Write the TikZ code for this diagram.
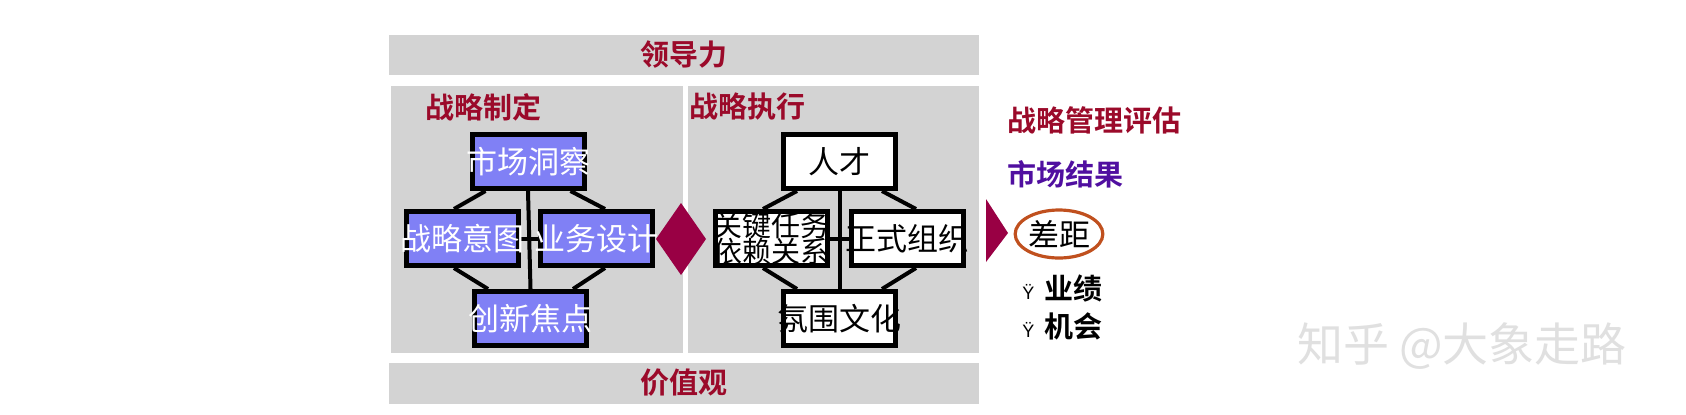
\documentclass[tikz,border=0pt]{standalone}
\usepackage{fontspec}
\setmainfont{Noto Sans CJK SC}
\newfontfamily\cjkb{Noto Sans CJK SC Bold}
\newfontfamily\lsans{Liberation Sans}
\usetikzlibrary{backgrounds,calc,shapes.geometric}
\definecolor{pgray}{RGB}{211,211,211}
\definecolor{dred}{RGB}{155,10,42}
\definecolor{dmd}{RGB}{153,0,68}
\definecolor{bluebox}{RGB}{128,128,245}
\definecolor{purp}{RGB}{80,15,160}
\definecolor{ora}{RGB}{192,80,30}
\newcommand{\ovl}[1]{\makebox[0pt]{#1}}
\tikzset{
  band/.style={fill=pgray,draw=none},
  title/.style={font=\cjkb\fontsize{14.5}{16}\selectfont,text=dred},
  bbox/.style={draw=black,line width=2.5pt,fill=bluebox,minimum width=56pt,minimum height=27pt,inner sep=0pt,text=white,font=\fontsize{15.5}{17}\selectfont},
  wbox/.style={bbox,fill=white,text=black},
  conn/.style={line width=2pt,black},
}
\begin{document}
\begin{tikzpicture}[x=0.5pt,y=-0.5pt]
\useasboundingbox (0,0) rectangle (1686,414);
% nodes
\node[title,text=dred] (lead) at (684,55) {领导力};
\node[title] (val) at (684,383) {价值观};
\node[title] (t1) at (483,107) {战略制定};
\node[title] (t2) at (747,107) {战略执行};
\node[title,anchor=west] (t3) at (1000,120) {战略管理评估};
\node[title,anchor=west,text=purp] (t4) at (1000,174) {市场结果};

\node[bbox] (a) at (528,161.5) {\ovl{市场洞察}};
\node[bbox] (b) at (462.5,238.5) {\ovl{战略意图}};
\node[bbox] (c) at (596.5,238.5) {\ovl{业务设计}};
\node[bbox] (d) at (530.5,318.5) {\ovl{创新焦点}};

\node[wbox] (p) at (839.5,161.5) {\ovl{人才}};
\node[wbox,font=\fontsize{14.5}{11}\selectfont] (q) at (771.5,238.5) {\ovl{\shortstack{关键任务\\[-3pt]依赖关系}}};
\node[wbox] (r) at (907.5,238.5) {\ovl{正式组织}};
\node[wbox] (s) at (839.5,318.5) {\ovl{氛围文化}};

\fill[dmd] (656,239) -- (681,203) -- (706,239) -- (681,275) -- cycle;
\fill[dmd] (986,199) -- (1008,233) -- (986,262) -- cycle;

\node[draw=ora,line width=1.6pt,ellipse,minimum width=43pt,minimum height=24pt,inner sep=0pt,font=\fontsize{15.5}{17}\selectfont] (gap) at (1059,234) {差距};
\node[anchor=west,inner sep=0pt] (y1) at (1022,288) {\lsans\fontsize{9}{10}\selectfont Ÿ\ \ \cjkb\fontsize{14.5}{16}\selectfont 业绩};
\node[anchor=west,inner sep=0pt] (y2) at (1022,326) {\lsans\fontsize{9}{10}\selectfont Ÿ\ \ \cjkb\fontsize{14.5}{16}\selectfont 机会};

\node[text=black!12,font=\fontsize{23}{26}\selectfont] (wm) at (1462,346) {知乎 @大象走路};

\begin{scope}[on background layer]
\fill[white] (0,0) rectangle (1686,414);
\fill[band] (389,35) rectangle (979,75);
\fill[band] (389,363) rectangle (979,404);
\fill[band] (391,86) rectangle (683,353);
\fill[band] (688,86) rectangle (979,353);
% left connectors
\draw[conn] (a.south) -- (d.north);
\draw[conn] (b.east) -- (c.west);
\draw[conn] ([xshift=8pt]a.south west) -- ([xshift=25pt]b.north west);
\draw[conn] ([xshift=-8pt]a.south east) -- ([xshift=-25pt]c.north east);
\draw[conn] ([xshift=8pt]d.north west) -- ([xshift=25pt]b.south west);
\draw[conn] ([xshift=-8pt]d.north east) -- ([xshift=-25pt]c.south east);
% right connectors
\draw[conn] (p.south) -- (s.north);
\draw[conn] (q.east) -- (r.west);
\draw[conn] ([xshift=8pt]p.south west) -- ([xshift=25pt]q.north west);
\draw[conn] ([xshift=-8pt]p.south east) -- ([xshift=-25pt]r.north east);
\draw[conn] ([xshift=8pt]s.north west) -- ([xshift=25pt]q.south west);
\draw[conn] ([xshift=-8pt]s.north east) -- ([xshift=-25pt]r.south east);
\end{scope}
\end{tikzpicture}
\end{document}
